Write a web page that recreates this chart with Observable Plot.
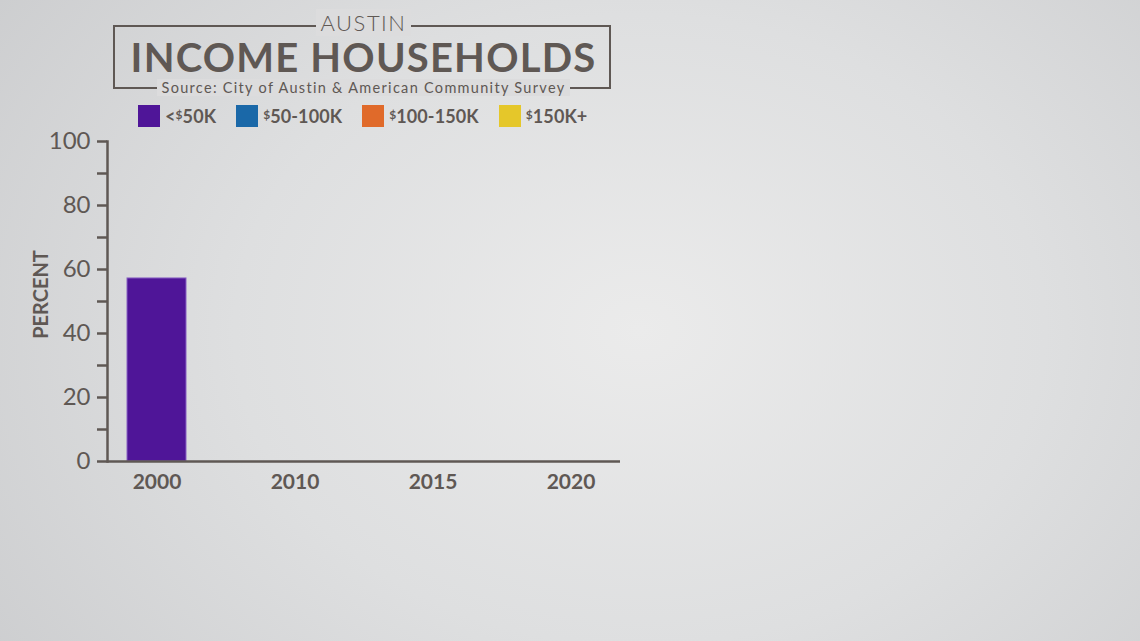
<!DOCTYPE html>
<html><head><meta charset="utf-8">
<script src="https://cdn.jsdelivr.net/npm/d3@7"></script>
<script src="https://cdn.jsdelivr.net/npm/@observablehq/plot@0.6"></script>
<style>
html,body{margin:0;padding:0;}
body{width:1140px;height:641px;overflow:hidden;position:relative;font-family:Lato,"Open Sans",sans-serif;
 background:radial-gradient(ellipse 900px 700px at 640px 330px,#ebebeb 0%,#dedfe0 45%,#c7c8ca 100%);}
#box{position:absolute;left:113px;top:25px;width:494px;height:60px;border:2.5px solid #5f5854;}
#austin{position:absolute;left:0;width:727px;top:12px;line-height:22px;text-align:center;font-size:22px;font-weight:300;letter-spacing:1.5px;color:#5f5854;}
#austin span,#src span{background:#dcdcdd;padding:0 5px;}
#title{position:absolute;left:0;width:727px;top:42px;line-height:30px;text-align:center;font-size:40px;font-weight:700;color:#5f5854;letter-spacing:1.2px;}
#src{position:absolute;left:0;width:727px;top:80px;line-height:15px;text-align:center;font-size:14.5px;color:#5f5854;letter-spacing:1.3px;}
#legend{position:absolute;left:138px;top:105px;display:flex;font-size:18px;font-weight:700;color:#5f5854;letter-spacing:0.1px;}
.it{display:flex;align-items:center;margin-right:20px;}
.sw{width:22px;height:22px;margin-right:5px;}
#chart{position:absolute;left:0;top:125px;}
</style></head>
<body>
<div id="box"></div>
<div id="austin"><span>AUSTIN</span></div>
<div id="title">INCOME HOUSEHOLDS</div>
<div id="src"><span>Source: City of Austin &amp; American Community Survey</span></div>
<div id="legend"></div>
<div id="chart"></div>
<script>
const years = ["2000","2010","2015","2020"];
const brackets = ["<$50K","$50-100K","$100-150K","$150K+"];
const colors = ["#4f1598","#1a68a8","#e06a2a","#e5c72a"];
// only the first bar is shown in the reference frame
const barYears = ["2000"];
const barBrackets = ["<$50K"];
const barValues = [57.2];
const majorTicks = [0,20,40,60,80,100];
const minorTicks = [10,30,50,70,90];

const ink = "#5f5854";
const leg = document.getElementById("legend");
brackets.forEach((b,i)=>{
  const d=document.createElement("div");d.className="it";
  d.innerHTML=`<div class="sw" style="background:${colors[i]}"></div><div>${b.replace("$","<span style='font-size:12px;vertical-align:4px'>$</span>")}</div>`;
  leg.appendChild(d);
});

const data = barValues.map((v,i)=>({year:barYears[i],bracket:barBrackets[i],value:v}));

const chart = Plot.plot({
  width: 640, height: 380,
  marginLeft: 107, marginRight: 20, marginTop: 16, marginBottom: 44,
  style:{background:"transparent",color:ink,fontFamily:"Lato, sans-serif"},
  x:{domain:years, paddingInner:0.572, paddingOuter:0.138, axis:null},
  y:{domain:[0,100], axis:null},
  color:{domain:brackets, range:colors},
  marks:[
    Plot.barY(data,{x:"year",y:"value",fill:"bracket",stroke:"#8a62c4",strokeWidth:1}),
    Plot.axisY({ticks:minorTicks,tickSize:10,text:null,label:null,stroke:ink,strokeWidth:2.5}),
    Plot.axisY({ticks:majorTicks,tickSize:10,tickPadding:7,fontSize:24,fill:ink,stroke:ink,strokeWidth:2.5,label:null,letterSpacing:"0.5px"}),
    Plot.frame({anchor:"left",stroke:ink,strokeWidth:2.5}),
    Plot.ruleY([0],{stroke:ink,strokeWidth:2.5}),
    Plot.axisX({tickSize:0,tickPadding:13,fontSize:21,fontWeight:700,fill:ink,label:null,letterSpacing:"1.5px"}),
    Plot.text(["PERCENT"],{frameAnchor:"left",dx:-66,dy:-7,rotate:-90,textAnchor:"middle",fontSize:20,fontWeight:700,fill:ink,letterSpacing:"1.6px"})
  ]
});
document.getElementById("chart").appendChild(chart);
</script>
</body></html>
